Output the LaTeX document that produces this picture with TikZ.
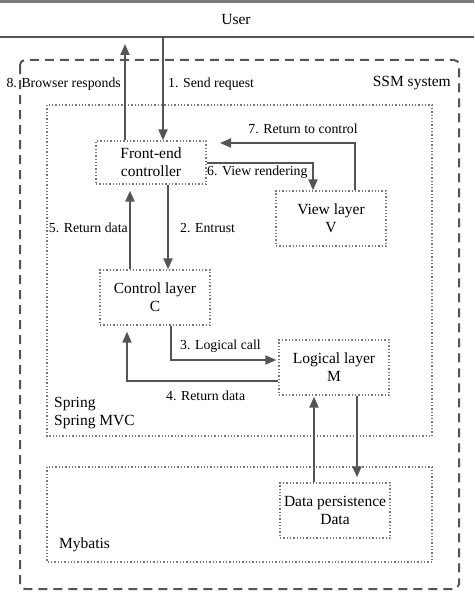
\documentclass[tikz,border=0pt]{standalone}
\usepackage{fontspec}
\setmainfont{Liberation Serif}
\usepackage{xcolor}
\usetikzlibrary{
    arrows.meta,
    calc,
    positioning
}
\definecolor{linegray}{HTML}{555555}
\definecolor{boxgray}{HTML}{7A7A7A}
\tikzset{
    layerbox/.style={draw=boxgray, line width=1.3pt, dash pattern=on 1.3pt off 2pt,
        minimum width=110pt, minimum height=55pt, inner sep=0pt, align=center,
        font=\fontsize{15.5}{18}\selectfont},
    flow/.style={draw=linegray, line width=2pt, -{Triangle[length=11pt,width=9pt]}},
    steplabel/.style={font=\fontsize{13.8}{16}\selectfont, inner sep=0pt},
    biglabel/.style={font=\fontsize{15.5}{18}\selectfont, inner sep=0pt}
}

\begin{document}
\begin{tikzpicture}[x=1pt, y=-1pt]
                        \useasboundingbox (0,0) rectangle (474,594);
                        % user bar
                        \draw[boxgray, line width=3pt] (0,1.5) -- (474,1.5);
                        \draw[linegray, line width=2.2pt] (0,37) -- (474,37);
                        \node[biglabel] (user) at (236,20) {User};
                        % containers
                        \draw[linegray, line width=2pt, dash pattern=on 9pt off 6pt, rounded corners=5pt]
                            (20,60) rectangle (459,589);
                        \draw[boxgray, line width=1.3pt, dash pattern=on 1.3pt off 2pt] (47,105) rectangle (432,436);
                        \draw[boxgray, line width=1.3pt, dash pattern=on 1.3pt off 2pt] (47,467) rectangle (432,562);
                        \node[biglabel, anchor=east] (ssm) at (451,83) {SSM system};
                        \node[biglabel, anchor=west, align=left] (spring) at (54,413) {Spring\\Spring MVC};
                        \node[biglabel, anchor=west] (mybatis) at (59,545) {Mybatis};
                        % layers
                        \node[layerbox, minimum height=43pt] (fec) at (151,162.5) {Front-end\\controller};
                        \node[layerbox] (view) at (331,218.5) {View layer\\V};
                        \node[layerbox] (ctrl) at (155,297.5) {Control layer\\C};
                        \node[layerbox] (logic) at (334,367.5) {Logical layer\\M};
                        \node[layerbox] (data) at (335,510.5) {Data persistence\\Data};
                        \coordinate (req) at (163,37);
                        \coordinate (resp) at (125,44);
                        \coordinate (back) at (220,143);
                        % flows
                        \draw[flow] (req) -- (req |- fec.north);
                        \draw[flow] (resp |- fec.north) -- (resp);
                        \draw[flow] (fec.east) -| ([xshift=-18pt]view.north);
                        \draw[flow] ([xshift=24pt]view.north) |- (back);
                        \draw[flow] ([xshift=17pt]fec.south) -- ([xshift=17pt]fec.south |- ctrl.north);
                        \draw[flow] ([xshift=-25pt]ctrl.north) -- ([xshift=-25pt,yshift=-6pt]ctrl.north |- fec.south);
                        \draw[flow] ([xshift=16pt]ctrl.south) |- ([xshift=-2pt,yshift=7.5pt]logic.west);
                        \draw[flow] ([yshift=-13.5pt]logic.west) -| ([xshift=-28pt,yshift=-6pt]ctrl.south);
                        \draw[flow] ([xshift=-21pt]data.north) -- ([xshift=-21pt,yshift=-1pt]data.north |- logic.south);
                        \draw[flow] ([xshift=23pt]logic.south) -- ([xshift=23pt,yshift=5pt]logic.south |- data.north);
                        % step labels
                        \node[steplabel, anchor=east] (l8) at (121,84) {8. Browser responds};
                        \node[steplabel, anchor=west] (l1) at (168,84) {1. Send request};
                        \node[steplabel] (l7) at (303,129) {7. Return to control};
                        \node[steplabel, anchor=west] (l6) at (207,172) {6. View rendering};
                        \node[steplabel, anchor=east] (l5) at (128,228) {5. Return data};
                        \node[steplabel, anchor=west] (l2) at (180,228) {2. Entrust};
                        \node[steplabel, anchor=west] (l3) at (180,346) {3. Logical call};
                        \node[steplabel, anchor=west] (l4) at (166,396) {4. Return data};
                    \end{tikzpicture}
\end{document}
